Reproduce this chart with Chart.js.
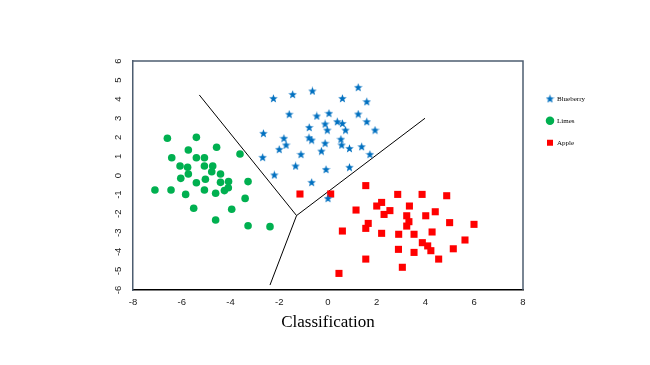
<!DOCTYPE html>
<html>
<head>
<meta charset="utf-8">
<script src="https://cdn.jsdelivr.net/npm/chart.js@4.4.0/dist/chart.umd.min.js"></script>
<style>
  html, body { margin: 0; padding: 0; background: #ffffff; }
  canvas { display: block; }
</style>
</head>
<body>
<canvas id="grafico" width="650" height="365"></canvas>
<script>
// valores
const blueberryX = [-2.24, -1.45, -0.64, 1.24, 0.59, 1.59, -1.59, -0.46, 0.04, 1.24, 0.38, -0.12, 0.59, 1.59,
  -0.77, -0.03, 0.72, 1.93, -2.65, -1.81, -1.72, -0.78, -0.67, 0.53, -0.12, 0.56, -2.00, 0.88, 1.38,
  -0.27, -1.11, 1.72, -2.68, -1.33, -0.08, 0.88, -2.20, -0.67, 0.00];
const blueberryY = [4.04, 4.25, 4.43, 4.62, 4.04, 3.87, 3.21, 3.12, 3.26, 3.22, 2.82, 2.70, 2.73, 2.82,
  2.52, 2.38, 2.38, 2.38, 2.21, 1.95, 1.60, 1.98, 1.86, 1.90, 1.69, 1.60, 1.37, 1.42, 1.51,
  1.28, 1.11, 1.11, 0.95, 0.50, 0.32, 0.43, 0.03, -0.36, -1.20];

const limesX = [-6.59, -5.40, -5.73, -4.57, -6.41, -5.40, -5.07, -3.61, -6.07, -5.76, -5.07, -4.73,
  -4.77, -5.73, -4.41, -6.04, -5.03, -4.08, -5.40, -4.41, -3.28, -7.10, -6.44, -5.07, -4.25,
  -4.09, -5.84, -4.61, -3.40, -5.51, -3.95, -4.61, -3.28, -2.38];
const limesY = [1.95, 2.00, 1.34, 1.48, 0.93, 0.93, 0.93, 1.13, 0.50, 0.43, 0.50, 0.50,
  0.20, 0.08, 0.08, -0.15, -0.20, -0.32, -0.38, -0.36, -0.32, -0.76, -0.76, -0.76, -0.79,
  -0.64, -0.99, -0.93, -1.20, -1.72, -1.77, -2.33, -2.63, -2.68];

const appleX = [-1.15, 0.11, 1.55, 2.86, 3.86, 4.87, 2.00, 2.20, 1.15, 3.34, 2.54, 2.30, 3.23,
  4.01, 4.40, 3.32, 3.23, 1.65, 1.55, 4.99, 5.99, 0.59, 2.20, 2.90, 3.53, 4.27, 3.87, 4.09,
  4.22, 5.62, 2.89, 3.53, 5.14, 1.55, 4.54, 3.05, 0.45];
const appleY = [-0.97, -0.97, -0.53, -0.99, -0.99, -1.06, -1.60, -1.41, -1.81, -1.60, -1.84, -2.04, -2.11,
  -2.11, -1.90, -2.42, -2.65, -2.51, -2.77, -2.47, -2.56, -2.91, -3.03, -3.08, -3.08, -2.96, -3.52, -3.69,
  -3.94, -3.38, -3.87, -4.03, -3.84, -4.38, -4.38, -4.81, -5.13];

// linhas de separação (passam pelo ponto de junção)
const divisaX = [-5.28, -1.29, 3.98];
const divisaY = [4.22, -2.10, 3.00];
const divisaBaixoX = [-1.29, -2.38];
const divisaBaixoY = [-2.10, -5.74];

const nomes = ['Blueberry', 'Limes', 'Apple'];
const cores = ['#0070C0', '#00B050', '#FF0000'];
const ticksX = [-8, -6, -4, -2, 0, 2, 4, 6, 8];
const ticksY = [-6, -5, -4, -3, -2, -1, 0, 1, 2, 3, 4, 5, 6];

const pares = (xs, ys) => xs.map((x, i) => ({ x: x, y: ys[i] }));

// estrela cheia de cinco pontas
function fazEstrela(tam, cor) {
  const c = document.createElement('canvas');
  c.width = tam; c.height = tam;
  const g = c.getContext('2d');
  const R = tam / 2, r = R * 0.42;
  g.beginPath();
  for (let i = 0; i < 10; i++) {
    const raio = i % 2 ? r : R;
    const a = -Math.PI / 2 + i * Math.PI / 5;
    g.lineTo(R + raio * Math.cos(a), R * 1.06 + raio * Math.sin(a));
  }
  g.closePath();
  g.fillStyle = cor;
  g.fill();
  return c;
}

// moldura do gráfico (topo e direita)
const moldura = {
  id: 'moldura',
  beforeDatasetsDraw(chart) {
    const { ctx, chartArea: a } = chart;
    ctx.save();
    ctx.strokeStyle = '#4d5d70';
    ctx.lineWidth = 1.5;
    ctx.beginPath();
    ctx.moveTo(a.left, a.top);
    ctx.lineTo(a.right, a.top);
    ctx.lineTo(a.right, a.bottom);
    ctx.stroke();
    ctx.restore();
  }
};

const fonteEixo = { family: 'Liberation Sans', size: 9.5 };

new Chart(document.getElementById('grafico'), {
  type: 'scatter',
  data: {
    datasets: [
      {
        label: nomes[0],
        data: pares(blueberryX, blueberryY),
        pointStyle: fazEstrela(9, cores[0]),
        backgroundColor: cores[0],
        borderColor: cores[0]
      },
      {
        label: nomes[1],
        data: pares(limesX, limesY),
        pointStyle: 'circle',
        pointRadius: 3.8,
        borderWidth: 0,
        backgroundColor: cores[1],
        borderColor: cores[1]
      },
      {
        label: nomes[2],
        data: pares(appleX, appleY),
        pointStyle: 'rect',
        pointRadius: 5,
        borderWidth: 0,
        backgroundColor: cores[2],
        borderColor: cores[2]
      },
      {
        label: 'divisa',
        data: pares(divisaX, divisaY),
        showLine: true,
        pointRadius: 0,
        borderColor: '#000000',
        borderWidth: 1
      },
      {
        label: 'divisa2',
        data: pares(divisaBaixoX, divisaBaixoY),
        showLine: true,
        pointRadius: 0,
        borderColor: '#000000',
        borderWidth: 1
      }
    ]
  },
  options: {
    responsive: false,
    animation: false,
    layout: { padding: { left: 93, right: 58.5, top: 61, bottom: 30 } },
    plugins: {
      tooltip: { enabled: false },
      legend: {
        position: 'right',
        align: 'start',
        maxWidth: 60,
        title: { display: true, text: '', padding: 0, font: { size: 16 } },
        labels: {
          usePointStyle: true,
          boxHeight: 6,
          padding: 15,
          color: '#000000',
          font: { family: 'Liberation Serif', size: 7 },
          filter: item => item.datasetIndex < 3
        }
      }
    },
    scales: {
      x: {
        type: 'linear',
        min: ticksX[0],
        max: ticksX[ticksX.length - 1],
        afterBuildTicks: s => { s.ticks = ticksX.map(v => ({ value: v })); },
        afterFit: s => { s.height = 45; },
        grid: { display: false, drawTicks: false },
        border: { display: true, color: '#000000', width: 1.5 },
        ticks: { color: '#1a1a1a', font: fonteEixo, padding: 7, maxRotation: 0 },
        title: {
          display: true,
          text: 'Classification',
          color: '#000000',
          font: { family: 'Liberation Serif', size: 17 },
          padding: { top: 0, bottom: 2 }
        }
      },
      y: {
        type: 'linear',
        min: ticksY[0],
        max: ticksY[ticksY.length - 1],
        afterBuildTicks: s => { s.ticks = ticksY.map(v => ({ value: v })); },
        afterFit: s => { s.width = 40; },
        grid: { display: false, drawTicks: false },
        border: { display: true, color: '#4d5d70', width: 1.5 },
        ticks: {
          color: '#1a1a1a',
          font: fonteEixo,
          padding: 10,
          minRotation: 90,
          maxRotation: 90,
          crossAlign: 'center'
        }
      },
      espaco: {
        type: 'linear',
        position: 'right',
        display: true,
        grid: { display: false, drawTicks: false },
        border: { display: false },
        ticks: { display: false },
        afterFit: s => { s.width = 8.5; }
      }
    }
  },
  plugins: [moldura]
});
</script>
</body>
</html>
